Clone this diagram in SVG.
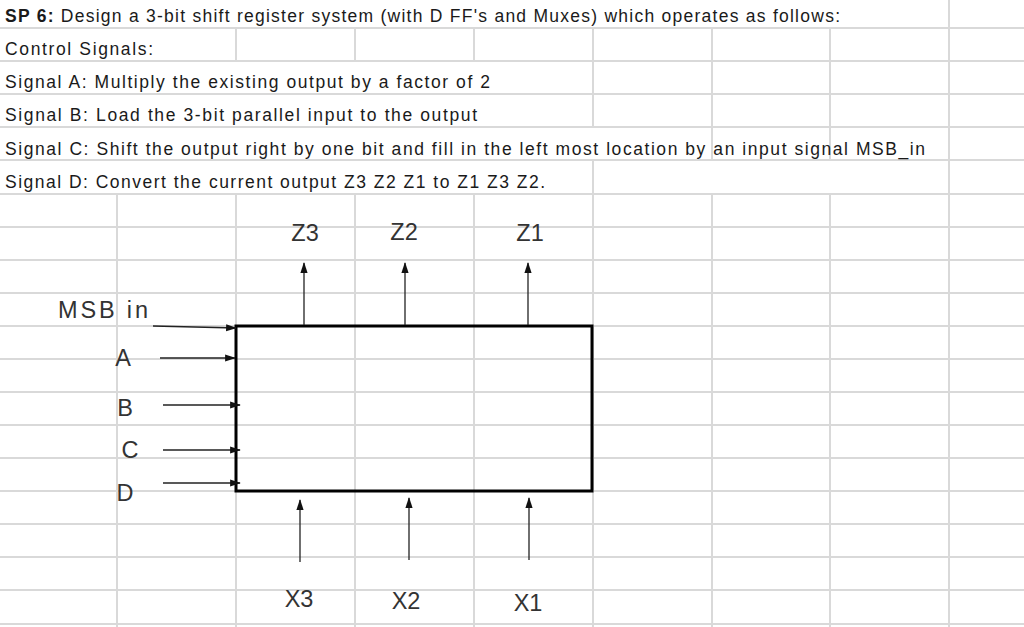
<svg xmlns="http://www.w3.org/2000/svg" width="1024" height="627" viewBox="0 0 1024 627">
<style>
.g{stroke:#d9d9d9;stroke-width:2;fill:none}
.t{font-family:"Liberation Sans",Arial,sans-serif;font-size:17.5px;fill:#1a1a1a}
.l{font-family:"Liberation Sans",Arial,sans-serif;font-size:23.5px;fill:#333}
.w{stroke:#222;stroke-width:1.3;fill:none}
</style>
<defs>
<marker id="ah" viewBox="0 0 12 10" refX="11" refY="5" markerWidth="11" markerHeight="9" markerUnits="userSpaceOnUse" orient="auto"><path d="M0,1 L12,5 L0,9 Z" fill="#111"/></marker>
</defs>
<rect width="1024" height="627" fill="#fff"/>
<g id="grid">
<path class="g" d="M0 28H1024M0 61H1024M0 94H1024M0 127H1024M0 160H1024M0 194H1024M0 227H1024M0 260H1024M0 293H1024M0 326H1024M0 359H1024M0 392H1024M0 425H1024M0 458H1024M0 491H1024M0 524H1024M0 557H1024M0 590H1024M0 624H1024"/>
<path class="g" d="M949 0V627M830 28V160M830 194V627M712 28V160M712 194V627M593 28V127M593 160V627M474 28V61M474 194V627M355 28V61M355 194V627M236 28V61M236 194V627M117 194V627"/>
</g>
<g id="text">
<text class="t" x="5" y="22" textLength="835" lengthAdjust="spacing"><tspan font-weight="bold">SP 6:</tspan> Design a 3-bit shift register system (with D FF's and Muxes) which operates as follows:</text>
<text class="t" x="5" y="55" textLength="148" lengthAdjust="spacing">Control Signals:</text>
<text class="t" x="5" y="88" textLength="485" lengthAdjust="spacing">Signal A: Multiply the existing output by a factor of 2</text>
<text class="t" x="5" y="121" textLength="472" lengthAdjust="spacing">Signal B: Load the 3-bit parallel input to the output</text>
<text class="t" x="5" y="155" textLength="920" lengthAdjust="spacing">Signal C: Shift the output right by one bit and fill in the left most location by an input signal MSB_in</text>
<text class="t" x="5" y="188" textLength="540" lengthAdjust="spacing">Signal D: Convert the current output Z3 Z2 Z1 to Z1 Z3 Z2.</text>
</g>
<g id="box"><rect x="236" y="326" width="356" height="165" fill="none" stroke="#000" stroke-width="3"/></g>
<g id="labels">
<text class="l" x="305" y="241" text-anchor="middle">Z3</text>
<text class="l" x="404" y="240" text-anchor="middle">Z2</text>
<text class="l" x="530" y="241" text-anchor="middle">Z1</text>
<text class="l" x="58" y="318" textLength="90" lengthAdjust="spacing">MSB  in</text>
<text class="l" x="123" y="366" text-anchor="middle">A</text>
<text class="l" x="125" y="416" text-anchor="middle">B</text>
<text class="l" x="130" y="458" text-anchor="middle">C</text>
<text class="l" x="125" y="501" text-anchor="middle">D</text>
<text class="l" x="299" y="607" text-anchor="middle">X3</text>
<text class="l" x="406" y="609" text-anchor="middle">X2</text>
<text class="l" x="528" y="611" text-anchor="middle">X1</text>
</g>
<g id="connectors">
<line class="w" x1="304" y1="325" x2="304" y2="263" marker-end="url(#ah)"/>
<line class="w" x1="405" y1="325" x2="405" y2="263" marker-end="url(#ah)"/>
<line class="w" x1="528" y1="325" x2="528" y2="263" marker-end="url(#ah)"/>
<line class="w" x1="153" y1="326" x2="236" y2="328" marker-end="url(#ah)"/>
<line class="w" x1="160" y1="358" x2="235" y2="358" marker-end="url(#ah)"/>
<line class="w" x1="163" y1="405" x2="240" y2="405" marker-end="url(#ah)"/>
<line class="w" x1="163" y1="450" x2="240" y2="450" marker-end="url(#ah)"/>
<line class="w" x1="163" y1="483" x2="240" y2="483" marker-end="url(#ah)"/>
<line class="w" x1="300" y1="562" x2="300" y2="500" marker-end="url(#ah)"/>
<line class="w" x1="409" y1="560" x2="409" y2="498" marker-end="url(#ah)"/>
<line class="w" x1="529" y1="560" x2="529" y2="498" marker-end="url(#ah)"/>
</g>
</svg>
